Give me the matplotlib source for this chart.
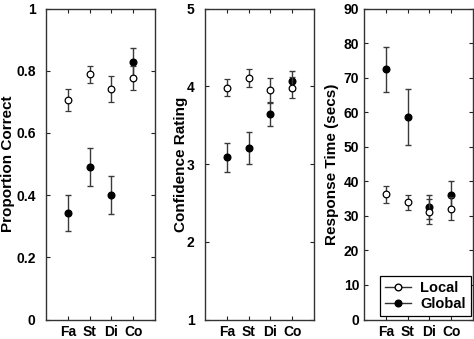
import matplotlib
matplotlib.use("Agg")
import matplotlib.pyplot as plt
from matplotlib.lines import Line2D

plt.rcParams['font.family'] = ['Liberation Sans', 'DejaVu Sans']
plt.rcParams['font.weight'] = 'bold'
plt.rcParams['axes.labelweight'] = 'bold'
plt.rcParams['font.size'] = 10

categories = ["Fa", "St", "Di", "Co"]

# Panel 1: Proportion Correct
pc_local = [0.706, 0.789, 0.740, 0.776]
pc_local_err = [0.034, 0.027, 0.042, 0.039]
pc_global = [0.343, 0.490, 0.400, 0.827]
pc_global_err = [0.057, 0.062, 0.061, 0.046]

# Panel 2: Confidence Rating
cr_local = [3.983, 4.108, 3.953, 3.983]
cr_local_err = [0.11, 0.12, 0.157, 0.14]
cr_global = [3.086, 3.211, 3.640, 4.073]
cr_global_err = [0.19, 0.206, 0.146, 0.12]

# Panel 3: Response Time (secs)
rt_local = [36.2, 33.9, 31.2, 32.1]
rt_local_err = [2.4, 2.1, 3.7, 3.4]
rt_global = [72.4, 58.6, 32.6, 35.9]
rt_global_err = [6.5, 8.2, 3.4, 4.2]

panels = [
    dict(local=pc_local, lerr=pc_local_err, glob=pc_global, gerr=pc_global_err,
         ylim=(0, 1), yticks=[0, 0.2, 0.4, 0.6, 0.8, 1],
         yticklabels=["0", "0.2", "0.4", "0.6", "0.8", "1"],
         ylabel="Proportion Correct", left=46, ypad=7.5, labelx=15.5),
    dict(local=cr_local, lerr=cr_local_err, glob=cr_global, gerr=cr_global_err,
         ylim=(1, 5), yticks=[1, 2, 3, 4, 5],
         yticklabels=["1", "2", "3", "4", "5"],
         ylabel="Confidence Rating", left=205, ypad=7.5, labelx=188),
    dict(local=rt_local, lerr=rt_local_err, glob=rt_global, gerr=rt_global_err,
         ylim=(0, 90), yticks=list(range(0, 91, 10)),
         yticklabels=[str(v) for v in range(0, 91, 10)],
         ylabel="Response Time (secs)", left=364, ypad=3.5, labelx=339),
]

W, H = 474, 339
fig = plt.figure(figsize=(W / 100, H / 100), dpi=100)
fig.patch.set_facecolor("white")

xs = list(range(1, len(categories) + 1))
ecol = "#3a3a3a"
ax_w = 109
bottom_px = 319.5
top_px = 8.5

for i, p in enumerate(panels):
    ax = fig.add_axes([p["left"] / W, (H - bottom_px) / H, ax_w / W, (bottom_px - top_px) / H])
    ax.errorbar(xs, p["glob"], yerr=p["gerr"], fmt="o", color="black", ecolor=ecol,
                elinewidth=1.0, capsize=2.5, capthick=1.0, markersize=4.8,
                markerfacecolor="black", markeredgecolor="black", zorder=3)
    ax.errorbar(xs, p["local"], yerr=p["lerr"], fmt="o", color="black", ecolor=ecol,
                elinewidth=1.0, capsize=2.5, capthick=1.0, markersize=4.8,
                markerfacecolor="white", markeredgecolor="black", markeredgewidth=0.9,
                zorder=4)
    ax.set_xlim(0, 5)
    ax.set_ylim(*p["ylim"])
    ax.set_xticks(xs)
    ax.set_xticklabels(categories)
    ax.set_yticks(p["yticks"])
    ax.set_yticklabels(p["yticklabels"])
    ax.set_ylabel(p["ylabel"], fontsize=11)
    ax.yaxis.set_label_coords((p["labelx"] - p["left"]) / ax_w, 0.5)
    ax.tick_params(direction="in", length=3, width=0.8, top=True, right=True,
                   colors="#222222", labelcolor="black")
    ax.tick_params(axis="x", pad=4)
    ax.tick_params(axis="y", pad=p["ypad"])
    for s in ax.spines.values():
        s.set_linewidth(1.0)
        s.set_color("#333333")
    if i == 2:
        handles = [
            Line2D([0], [0], color="#333333", lw=1.0, marker="o", markersize=4.8,
                   markerfacecolor="white", markeredgecolor="black"),
            Line2D([0], [0], color="#333333", lw=1.0, marker="o", markersize=4.8,
                   markerfacecolor="black", markeredgecolor="black"),
        ]
        leg = ax.legend(handles, ["Local", "Global"], loc="lower right",
                        bbox_to_anchor=(1 - 2.5 / ax_w, 3.5 / 311), fancybox=False,
                        framealpha=1, edgecolor="black", handlelength=1.8,
                        handletextpad=0.6, borderpad=0.35, labelspacing=0.15,
                        borderaxespad=0.0, fontsize=10.5)
        leg.get_frame().set_linewidth(0.9)

fig.savefig("out.png", dpi=100, facecolor="white")
